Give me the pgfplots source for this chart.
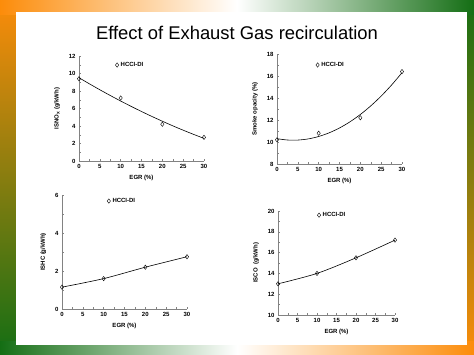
\documentclass[border=0pt]{standalone}
\usepackage{fontspec}
\setmainfont{Liberation Sans}
\usepackage{pgfplots}
\pgfplotsset{compat=1.18}
\definecolor{myorange}{RGB}{252,140,10}
\definecolor{mygreen}{RGB}{20,110,20}
\definecolor{axgray}{RGB}{130,130,130}
\pgfplotsset{
  panel/.style={
    scale only axis,
    axis lines=left,
    axis line style={draw=axgray,-},
    tick style={draw=axgray,thin},
    tick align=inside,
    major tick length=2pt,
    minor tick length=1.5pt,
    xmin=0,xmax=30,
    xtick={0,5,...,30},
    minor x tick num=1,
    minor y tick num=1,
    /pgf/number format/assume math mode=true,
    ticklabel style={font=\fontsize{6}{7}\selectfont\bfseries},
    label style={font=\fontsize{6}{7}\selectfont\bfseries},
    xlabel={EGR (\%)},
    xlabel style={yshift=0pt},
    ylabel style={yshift=2pt},
    legend style={draw=none,fill=none,inner sep=0pt,font=\fontsize{6}{7}\selectfont\bfseries,
      legend cell align=left},
    legend image code/.code={\draw[#1] plot coordinates {(0.05cm,0cm)};},
    clip=false,
  },
  dots/.style={only marks,mark=diamond,mark size=2.2pt,mark options={draw=black,fill=white,line width=0.4pt}},
  curve/.style={black,line width=0.6pt,no marks,smooth},
}
\begin{document}
\begin{tikzpicture}
% background frame
\useasboundingbox (0pt,0pt) rectangle (474pt,355pt);
\shade[top color=myorange,bottom color=mygreen] (0pt,0pt) rectangle (20pt,355pt);
\shade[top color=mygreen,bottom color=myorange] (460pt,0pt) rectangle (474pt,355pt);
\shade[left color=myorange,right color=mygreen,middle color=white] (0pt,340pt) rectangle (474pt,355pt);
\shade[left color=mygreen,right color=myorange,middle color=white] (0pt,0pt) rectangle (474pt,13pt);
\fill[white] (16pt,10pt) rectangle (467pt,343pt);
\node[font=\fontsize{18.4}{22}\selectfont] at (237pt,322pt) {Effect of Exhaust Gas recirculation};

% Panel 1: ISNOx
\begin{axis}[panel,at={(79pt,194pt)},anchor=south west,width=125pt,height=105pt,
  ymin=0,ymax=12,ytick={0,2,...,12},ylabel={ISNO$_\mathbf{x}$ (g/kWh)},
  legend style={at={(rel axis cs:0.29,0.914)},anchor=west}]
\addplot[curve,forget plot] coordinates {(0,9.515)(2.5,8.817)(5,8.141)(7.5,7.487)(10,6.855)(12.5,6.245)(15,5.656)(17.5,5.090)(20,4.545)(22.5,4.022)(25,3.521)(27.5,3.042)(30,2.585)};
\addplot[dots] coordinates {(0,9.4)(10,7.2)(20,4.2)(30,2.7)};
\addlegendentry{HCCI-DI}
\end{axis}

% Panel 2: Smoke opacity
\begin{axis}[panel,at={(277pt,191pt)},anchor=south west,width=125pt,height=110pt,
  ymin=8,ymax=18,ytick={8,10,...,18},ylabel={Smoke opacity (\%)},
  legend style={at={(rel axis cs:0.31,0.90)},anchor=west}]
\addplot[curve,forget plot] coordinates {(0,10.3)(2.5,10.181)(5,10.175)(7.5,10.281)(10,10.5)(12.5,10.831)(15,11.275)(17.5,11.831)(20,12.5)(22.5,13.281)(25,14.175)(27.5,15.181)(30,16.3)};
\addplot[dots] coordinates {(0,10.2)(10,10.8)(20,12.2)(30,16.4)};
\addlegendentry{HCCI-DI}
\end{axis}

% Panel 3: ISHC
\begin{axis}[panel,at={(62pt,46pt)},anchor=south west,width=125pt,height=114pt,
  ymin=0,ymax=6,ytick={0,2,4,6},ylabel={ISHC (g/kWh)},
  legend style={at={(rel axis cs:0.36,0.947)},anchor=west}]
\addplot[curve,forget plot] coordinates {(0,1.15)(10,1.6)(20,2.2)(30,2.75)};
\addplot[dots] coordinates {(0,1.15)(10,1.6)(20,2.2)(30,2.75)};
\addlegendentry{HCCI-DI}
\end{axis}

% Panel 4: ISCO
\begin{axis}[panel,at={(278pt,40pt)},anchor=south west,width=117pt,height=104pt,
  ymin=10,ymax=20,ytick={10,12,...,20},ylabel={ISCO\ \ (g/kWh)},
  legend style={at={(rel axis cs:0.335,0.96)},anchor=west}]
\addplot[curve,forget plot] coordinates {(0,13.0)(10,14.0)(20,15.5)(30,17.2)};
\addplot[dots] coordinates {(0,13.0)(10,14.0)(20,15.5)(30,17.2)};
\addlegendentry{HCCI-DI}
\end{axis}
\end{tikzpicture}
\end{document}
